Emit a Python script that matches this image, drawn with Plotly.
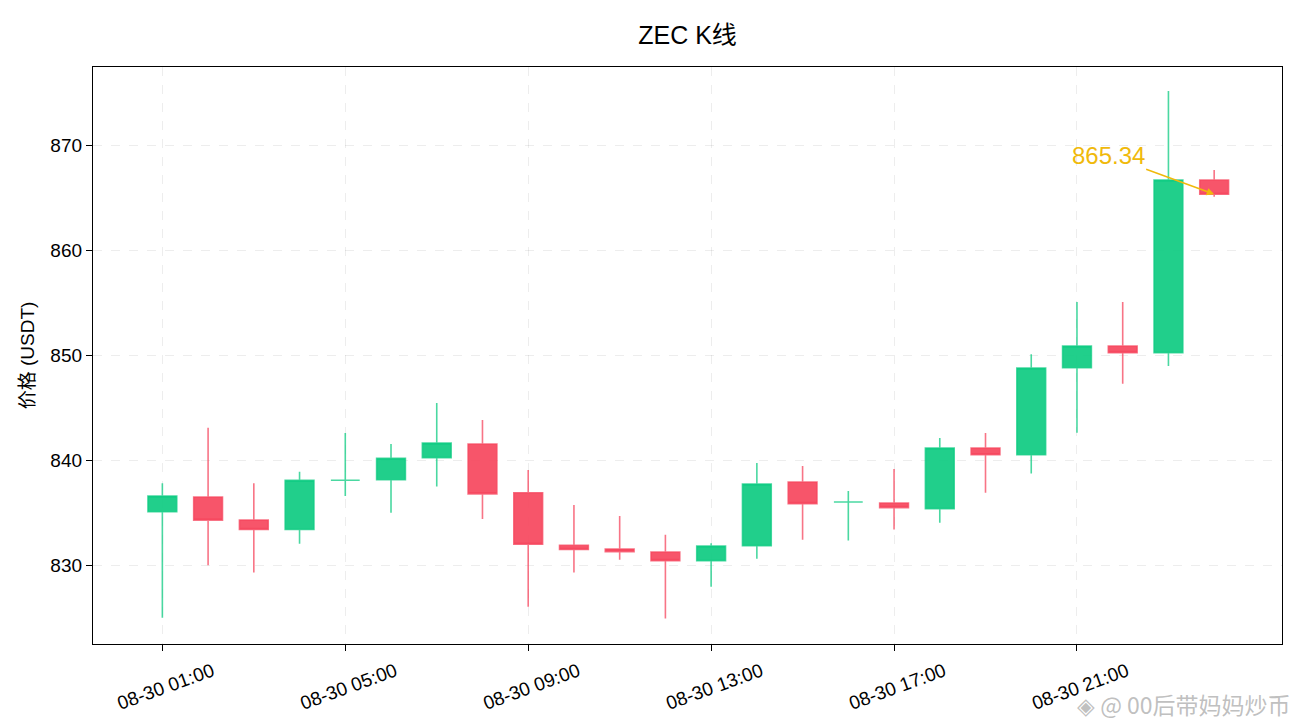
import pandas as pd
import plotly.graph_objects as go

# --- hourly ZEC/USDT candles ---
times = pd.date_range("2025-08-30 01:00", periods=24, freq="h")
opens = [835.1, 836.5, 834.3, 833.4, 838.1, 838.15, 840.25, 841.55, 836.9, 831.9, 831.55, 831.27,
         830.44, 831.87, 837.93, 836.03, 835.93, 835.39, 841.17, 840.53, 848.82, 850.89, 850.25, 866.7]
highs = [837.8, 843.1, 837.8, 838.9, 842.6, 841.55, 845.46, 843.84, 839.08, 835.74, 834.7, 832.9,
         832.1, 839.74, 839.46, 837.08, 839.17, 842.12, 842.6, 850.09, 855.08, 855.08, 875.17, 867.65]
lows = [825.0, 830.0, 829.3, 832.06, 836.6, 835.0, 837.5, 834.4, 826.06, 829.3, 830.53, 824.92,
        827.96, 830.63, 832.44, 832.35, 833.4, 834.06, 836.9, 838.73, 842.63, 847.3, 848.98, 865.1]
closes = [836.6, 834.3, 833.4, 838.1, 838.1, 840.2, 841.65, 836.8, 832.0, 831.5, 831.3, 830.44,
          831.84, 837.74, 835.87, 836.03, 835.49, 841.17, 840.53, 848.79, 850.89, 850.25, 866.7, 865.34]

tick_times = times[::4]
y_ticks = [830, 840, 850, 860, 870]

GOLD = "#f0b90b"
FONT = "Liberation Sans, Noto Sans CJK SC"

fig = go.Figure(go.Candlestick(
    x=times, open=opens, high=highs, low=lows, close=closes,
    increasing=dict(line=dict(color="rgba(14,203,129,0.75)", width=1.6),
                    fillcolor="rgba(14,203,129,0.92)"),
    decreasing=dict(line=dict(color="rgba(246,70,93,0.75)", width=1.6),
                    fillcolor="rgba(246,70,93,0.92)"),
    whiskerwidth=0,
    showlegend=False,
))

# last close callout
fig.add_annotation(
    x=times[-1], y=closes[-1], text=f"{closes[-1]:.2f}",
    showarrow=True, arrowhead=2, arrowsize=1, arrowwidth=1.5, arrowcolor=GOLD,
    ax=-106, ay=-39, font=dict(color=GOLD, size=24, family=FONT),
)

# watermark
fig.add_annotation(
    xref="paper", yref="paper", x=1.009, y=-0.104, xanchor="right", yanchor="middle",
    text="◈ @ 00后带妈妈炒币", showarrow=False,
    font=dict(color="rgba(175,175,175,0.8)", size=23, family="Noto Sans CJK SC"),
)

axis_common = dict(
    showline=True, linecolor="black", linewidth=1.3, mirror=True,
    ticks="outside", ticklen=6, tickcolor="black",
    showgrid=True, gridcolor="rgba(0,0,0,0.07)", griddash="dash", gridwidth=1,
    zeroline=False, automargin=False, tickfont=dict(size=19, color="black", family=FONT),
)

fig.update_layout(
    width=1286, height=714,
    margin=dict(l=85, r=12, t=59, b=78),
    boxgap=0.1,
    paper_bgcolor="white", plot_bgcolor="white",
    font=dict(family=FONT, color="black"),
    title=dict(text="ZEC K线", xref="paper", x=0.5, xanchor="center", y=0.962, yanchor="middle",
               font=dict(size=25, family=FONT, color="black")),
    xaxis=dict(
        **axis_common,
        range=[times[0] - pd.Timedelta(minutes=91), times[0] + pd.Timedelta(minutes=1469)],
        tickvals=tick_times, tickformat="%m-%d %H:%M", tickangle=-20,
        ticklabelshift=50, ticklabelstandoff=2,
        rangeslider=dict(visible=False),
    ),
    yaxis=dict(
        **axis_common,
        range=[822.5, 877.46], tickvals=y_ticks,
        title=dict(text="价格 (USDT)", font=dict(size=19, family=FONT), standoff=10),
    ),
)

fig.write_html("out.html")
